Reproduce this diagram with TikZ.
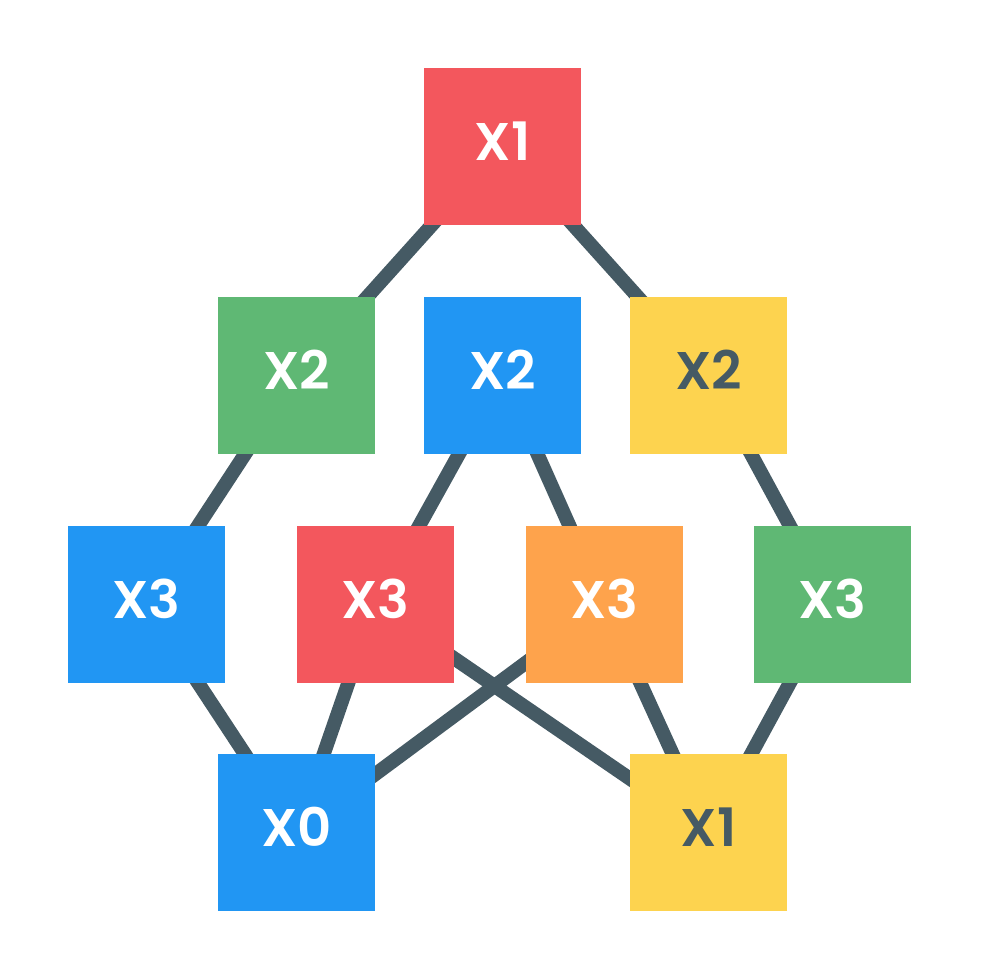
\documentclass[tikz,border=0pt]{standalone}
\usepackage{fontspec}
\setmainfont{Poppins}[BoldFont={Poppins SemiBold}]
\definecolor{cred}{HTML}{F3575D}
\definecolor{cgreen}{HTML}{5FB874}
\definecolor{cblue}{HTML}{2196F3}
\definecolor{cyellow}{HTML}{FDD34F}
\definecolor{corange}{HTML}{FEA34C}
\definecolor{cline}{HTML}{455A64}
\begin{document}
\begin{tikzpicture}[x=1pt,y=-1pt,
  box/.style={minimum width=157pt,minimum height=157pt,inner sep=0pt,text=white,
    text height=37pt,text depth=9pt,
    font=\fontsize{53}{60}\selectfont\bfseries},
  dark/.style={text=cline},
  link/.style={draw=cline,line width=14pt}]
\useasboundingbox (0,0) rectangle (980,980);
\coordinate (pa) at (502.5,146.5);
\coordinate (pb1) at (296.5,375.5);
\coordinate (pb2) at (502.5,375.5);
\coordinate (pb3) at (708.5,375.5);
\coordinate (pc1) at (146.5,604.5);
\coordinate (pc2) at (375.5,604.5);
\coordinate (pc3) at (604.5,604.5);
\coordinate (pc4) at (832.5,604.5);
\coordinate (pd1) at (296.5,832.5);
\coordinate (pd2) at (708.5,832.5);
\begin{scope}[link]
\draw (pa) -- (pb1);
\draw (pa) -- (pb3);
\draw (pb1) -- (pc1);
\draw (pb2) -- (pc2);
\draw (pb2) -- (pc3);
\draw (pb3) -- (pc4);
\draw (pc1) -- (pd1);
\draw (pc2) -- (pd1);
\draw (pc2) -- (pd2);
\draw (pc3) -- (pd1);
\draw (pc3) -- (pd2);
\draw (pc4) -- (pd2);
\end{scope}
\node[box,fill=cred] (a) at (pa) {X1};
\node[box,fill=cgreen] (b1) at (pb1) {X2};
\node[box,fill=cblue] (b2) at (pb2) {X2};
\node[box,fill=cyellow,dark] (b3) at (pb3) {X2};
\node[box,fill=cblue] (c1) at (pc1) {X3};
\node[box,fill=cred] (c2) at (pc2) {X3};
\node[box,fill=corange] (c3) at (pc3) {X3};
\node[box,fill=cgreen] (c4) at (pc4) {X3};
\node[box,fill=cblue] (d1) at (pd1) {X0};
\node[box,fill=cyellow,dark] (d2) at (pd2) {X1};
\end{tikzpicture}
\end{document}
